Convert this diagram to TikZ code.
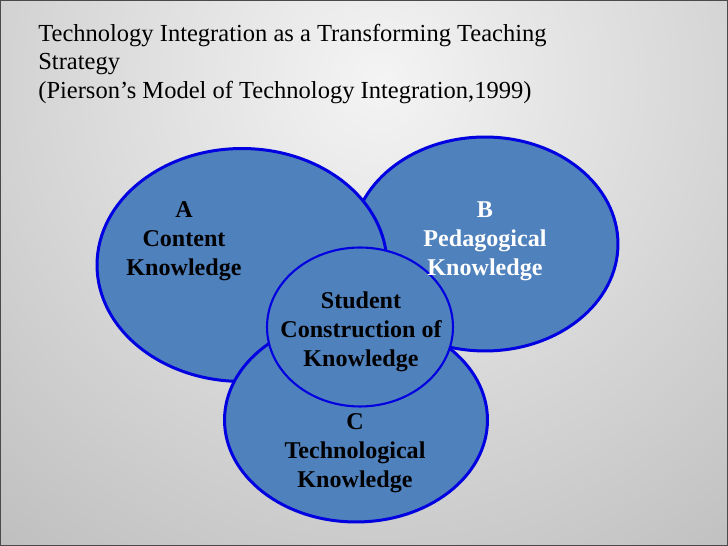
\documentclass[tikz,border=0pt]{standalone}
\usepackage{fontspec}
\setmainfont{Liberation Serif}
\usetikzlibrary{shapes.geometric}
\definecolor{setfill}{HTML}{4F81BD}
\definecolor{setline}{HTML}{0000E0}
\definecolor{bglight}{HTML}{F4F4F4}
\definecolor{bgdark}{HTML}{8A8A8A}
\definecolor{bgedge}{HTML}{4A4A4A}
\tikzstyle{blob}=[ellipse, draw=setline, fill=setfill, line width=1.7pt, inner sep=0pt]
\tikzstyle{lbl}=[align=center, font=\fontsize{13.7}{16.4}\selectfont\bfseries]
\newcommand{\blob}{\node[blob]}

\begin{document}
\begin{tikzpicture}[x=0.02cm, y=-0.02cm]
\useasboundingbox (0,0) rectangle (728,546);
\begin{scope}
\clip (0,0) rectangle (728,546);
\shade[inner color=bglight, outer color=bgdark] (380,80) circle (1200);
\end{scope}
\draw[line width=1.2pt, bgedge] (0,0) rectangle (728,546);

\node[anchor=north west, inner sep=0pt, align=left,
      font=\fontsize{13.95}{16.1}\selectfont] (title) at (38,24)
  {Technology Integration as a Transforming Teaching\\
   Strategy\\
   (Pierson’s Model of Technology Integration,1999)};

\blob[minimum width=5.32cm, minimum height=4.28cm] (pk) at (485,244) {};
\blob[minimum width=5.8cm, minimum height=4.66cm] (ck) at (242,265) {};
\blob[minimum width=5.26cm, minimum height=4.08cm] (tk) at (356,420) {};
\blob[minimum width=3.72cm, minimum height=3.18cm, line width=1.2pt] (sck) at (360,327) {};

\node[lbl] (ck-text) at (184,241) {A\\Content\\Knowledge};
\node[lbl, white] (pk-text) at (485,241) {B\\Pedagogical\\Knowledge};
\node[lbl] (sck-text) at (361,332) {Student\\Construction of\\Knowledge};
\node[lbl] (tk-text) at (355,453) {C\\Technological\\Knowledge};
\end{tikzpicture}
\end{document}
